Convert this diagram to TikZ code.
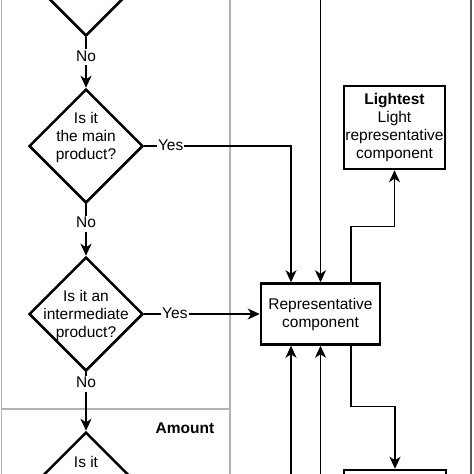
\documentclass[tikz,border=0pt]{standalone}
\usepackage{fontspec}
\setmainfont{Liberation Sans}
\usetikzlibrary{shapes.geometric,arrows.meta,calc}
\begin{document}
\begin{tikzpicture}[x=1pt,y=-1pt,
  every node/.style={font=\fontsize{15.5}{18}\selectfont},
  dec/.style={diamond, draw, line width=2.5pt, minimum width=114pt, minimum height=114pt, inner sep=0pt, aspect=1},
  box/.style={draw, line width=2.5pt, inner sep=0pt, align=center},
  txt/.style={align=center, inner sep=0pt},
  lbl/.style={fill=white, inner sep=1pt, text height=11pt, text depth=3pt},
  conn/.style={line width=1.4pt, -{Stealth[length=12pt,width=11pt,inset=3.5pt]}},
  lane/.style={draw=black!30, line width=1.5pt},
  frame/.style={draw=black!65, line width=2pt}
]
\useasboundingbox (0,0) rectangle (474,474);
\clip (0,0) rectangle (474,474);

% lanes
\draw[lane] (1.5,0) -- (1.5,474);
\draw[lane] (230,0) -- (230,474);
\draw[lane] (1.5,409) -- (230,409);
\draw[frame] (471,0) -- (471,474);
\node[font=\fontsize{15.5}{18}\selectfont\bfseries] (amount) at (185,428) {Amount};

% decisions
\node[dec] (d1) at (86,-21) {};
\node[dec] (d2) at (86,146) {};
\node[dec] (d3) at (86,314) {};
\node[dec] (d4) at (86,489) {};
\node[txt] (t2) at (86,137) {Is it\\the main\\product?};
\node[txt] (t3) at (86,315) {Is it an\\intermediate\\product?};
\node[txt] (t4) at (86,462) {Is it};

% boxes
\node[box, minimum width=119pt, minimum height=61pt] (rc) at (320.5,314) {Representative\\component};
\node[box, minimum width=101pt, minimum height=83pt] (lb) at (394.5,127.5) {\textbf{Lightest}\\Light\\representative\\component};
\node[box, minimum width=102pt, minimum height=60pt] (bb) at (395,500) {};

% columns
\coordinate (colA) at (291,-5);
\coordinate (colB) at (320.5,-5);
\coordinate (colC) at (351,0);
\coordinate (botA) at (291,480);
\coordinate (botB) at (320.5,480);

% connectors
\draw[conn] (d1.south) -- node[lbl,pos=0.4]{No} (d2.north);
\draw[conn] (d2.east) -- node[lbl,pos=0.18]{Yes} (d2.east -| colA) -- (rc.north -| colA);
\draw[conn] (colB) -- (rc.north);
\draw[conn] (d2.south) -- node[lbl,pos=0.38]{No} (d3.north);
\draw[conn] (d3.east) -- node[lbl,pos=0.265]{Yes} (rc.west);
\draw[conn] (d3.south) -- node[lbl,pos=0.2]{No} (d4.north);
\draw[conn] (botA) -- (rc.south -| botA);
\draw[conn] (botB) -- (rc.south);
\coordinate (up1) at ($(lb.south)+(0,56)$);
\draw[conn] (rc.north -| colC) |- (up1) -- (lb.south);
\coordinate (dn1) at ($(bb.north)+(0,-62)$);
\draw[conn] (rc.south -| colC) |- (dn1) -- (bb.north);
\end{tikzpicture}
\end{document}
